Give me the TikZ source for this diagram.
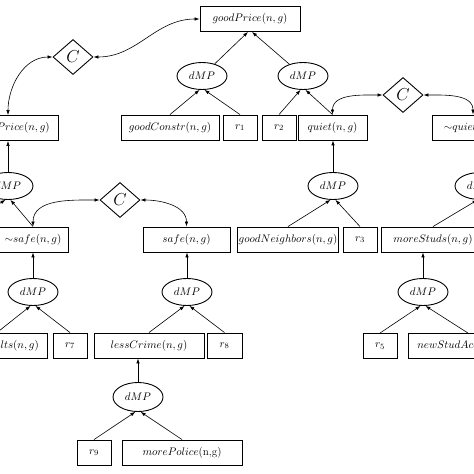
\documentclass[tikz,border=0pt]{standalone}
\usetikzlibrary{shapes.geometric,arrows.meta,calc}
\begin{document}
\begin{tikzpicture}[x=1pt,y=-1pt,
  every node/.style={font=\fontsize{11}{13}\selectfont},
  fact/.style={draw,line width=0.9pt,rectangle,minimum height=25pt,inner sep=1.5pt},
  dmp/.style={draw,line width=0.9pt,ellipse,minimum width=50pt,minimum height=27pt,inner sep=0pt},
  conf/.style={draw,line width=0.9pt,diamond,minimum width=40pt,minimum height=35pt,inner sep=0pt,font=\fontsize{16}{18}\selectfont},
  sup/.style={-{Latex[length=5pt,width=3.5pt]},line width=0.6pt},
  att/.style={{Latex[length=5pt,width=3.5pt]}-{Latex[length=5pt,width=3.5pt]},line width=0.6pt}]
\useasboundingbox (0,0) rectangle (474,474);
\clip (0,0) rectangle (474,474);
% top
\node[fact,minimum width=100pt] (gp) at (250,19) {$goodPrice(n,g)$};
\node[conf] (cTop) at (73,57) {$C$};
\node[fact,minimum width=100pt] (ngp) at (8,128) {${\sim}goodPrice(n,g)$};
\node[dmp] (dA) at (202,76) {$dMP$};
\node[dmp] (dB) at (303,76) {$dMP$};
\node[fact,minimum width=98pt] (gc) at (170,127.5) {$goodConstr(n,g)$};
\node[fact,minimum width=34pt] (r1) at (240,127.5) {$r_1$};
\node[fact,minimum width=34pt] (r2) at (279,127.5) {$r_2$};
\node[fact,minimum width=69pt] (qt) at (332.5,127.5) {$quiet(n,g)$};
\node[conf] (cR) at (403,95) {$C$};
\node[fact,minimum width=82pt] (nq) at (473,127.5) {${\sim}quiet(n,g)$};
% middle
\node[dmp] (dL) at (8,186) {$dMP$};
\coordinate (off1) at (-40,227);
\node[fact,minimum width=70pt] (ns) at (33,239.5) {${\sim}safe(n,g)$};
\node[conf] (cM) at (120,200) {$C$};
\node[fact,minimum width=87pt] (sf) at (186.5,239.5) {$safe(n,g)$};
\node[dmp] (dQ) at (333,186) {$dMP$};
\node[fact,minimum width=100pt] (gn) at (288,239.5) {$goodNeighbors(n,g)$};
\node[fact,minimum width=34pt] (r3) at (360,239.5) {$r_3$};
\node[fact,minimum width=104pt] (ms) at (433,239.5) {$moreStuds(n,g)$};
\node[dmp] (dR) at (480,186) {$dMP$};
% lower
\node[dmp] (dNS) at (33,292) {$dMP$};
\node[dmp] (dS) at (187,292) {$dMP$};
\node[fact,minimum width=100pt] (ad) at (-3,345.5) {$moreAdults(n,g)$};
\node[fact,minimum width=34pt] (r7) at (70,345.5) {$r_7$};
\node[fact,minimum width=110pt] (lc) at (149,345.5) {$lessCrime(n,g)$};
\node[fact,minimum width=35pt] (r8) at (224.5,345.5) {$r_8$};
\node[dmp] (dMS) at (423,292) {$dMP$};
\node[fact,minimum width=34pt] (r5) at (380,346) {$r_5$};
\node[fact,minimum width=120pt] (nsa) at (468,346) {$newStudAccom(n,g)$};
\node[dmp,minimum height=29pt] (dP) at (138,397) {$dMP$};
\node[fact,minimum width=34pt] (r9) at (94,452.5) {$r_9$};
\node[fact,minimum width=120pt] (mp) at (182,452.5) {$morePolice$(n,g)};
% support edges
\draw[sup] (dA) -- ($(gp.south)+(-2,0)$);
\draw[sup] (dB) -- ($(gp.south)+(2,0)$);
\draw[sup] (gc.north) -- (dA.-100);
\draw[sup] (r1.north) -- (dA.-80);
\draw[sup] (r2.north) -- (dB.-100);
\draw[sup] (qt.north) -- (dB.-80);
\draw[sup] (dL.north) -- (dL.north |- ngp.south);
\draw[sup] (off1) -- (dL.-100);
\draw[sup] (ns.north) -- (dL.-80);
\draw[sup] (dQ.north) -- (dQ.north |- qt.south);
\draw[sup] (gn.north) -- (dQ.-100);
\draw[sup] (r3.north) -- (dQ.-80);
\draw[sup] (ms.north) -- (dR.-100);
\draw[sup] (dR.north) -- (dR.north |- nq.south);
\draw[sup] (dNS.north) -- (dNS.north |- ns.south);
\draw[sup] (dS.north) -- (dS.north |- sf.south);
\draw[sup] (ad.north) -- (dNS.-100);
\draw[sup] (r7.north) -- (dNS.-80);
\draw[sup] (lc.north) -- (dS.-100);
\draw[sup] (r8.north) -- (dS.-80);
\draw[sup] (dMS.north) -- (dMS.north |- ms.south);
\draw[sup] (r5.north) -- (dMS.-100);
\draw[sup] (nsa.north) -- (dMS.-80);
\draw[sup] (dP.north) -- (dP.north |- lc.south);
\draw[sup] (r9.north) -- (dP.-100);
\draw[sup] (mp.north) -- (dP.-80);
% conflict edges
\draw[att] (cTop.east) to[out=0,in=180] (gp.west);
\draw[att] (cTop.west) to[out=180,in=90] (ngp.north);
\draw[att] (cM.west) to[out=180,in=90] (ns.north);
\draw[att] (cM.east) to[out=0,in=90] (sf.north);
\draw[att] (cR.west) to[out=180,in=90] (qt.north);
\draw[att] (cR.east) to[out=0,in=90] (nq.north);
\end{tikzpicture}
\end{document}
